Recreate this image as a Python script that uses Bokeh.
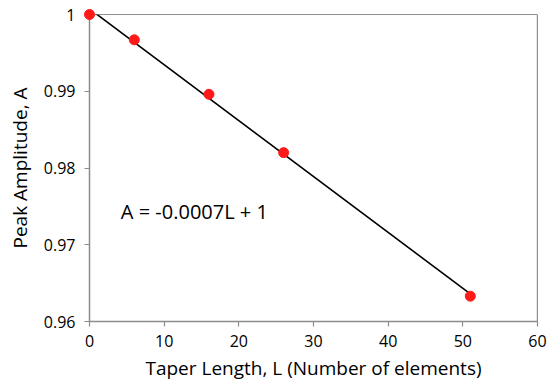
import numpy as np
from bokeh.plotting import figure
from bokeh.models import Span, Label, FixedTicker, Range1d
from bokeh.embed import file_html
from bokeh.resources import INLINE

# Data
taper_length = [0, 6, 16, 26, 51]
peak_amplitude = [1.0, 0.9967, 0.9896, 0.9820, 0.9633]
x_ticks = [0, 10, 20, 30, 40, 50, 60]
y_ticks = [0.96, 0.97, 0.98, 0.99, 1.0]
equation_text = "A = -0.0007L + 1"

FONT = "Open Sans"

p = figure(width=555, height=391,
           min_border_left=89, min_border_top=14, min_border_right=18, min_border_bottom=70,
           x_range=Range1d(0, 60), y_range=Range1d(0.96, 1.0),
           output_backend="svg", toolbar_location=None)

p.background_fill_color = "white"
p.border_fill_color = "white"
p.outline_line_color = None
p.xgrid.grid_line_color = None
p.ygrid.grid_line_color = None

# Linear trendline fitted to the data
slope, intercept = np.polyfit(taper_length, peak_amplitude, 1)
xs = [min(taper_length), max(taper_length)]
ys = [slope * x + intercept for x in xs]
p.line(xs, ys, line_color="black", line_width=1.6)

# Top and right frame borders
p.add_layout(Span(location=1.0, dimension="width", line_color="#222222", line_width=1.2))
p.add_layout(Span(location=60, dimension="height", line_color="#222222", line_width=1.2))

p.scatter(taper_length, peak_amplitude, size=10, fill_color="#FF1A1A",
          line_color="#FF1A1A", level="overlay")

for ax in (p.xaxis, p.yaxis):
    ax.axis_line_color = "#8C8C8C"
    ax.axis_line_width = 1.5
    ax.major_tick_line_color = "#8C8C8C"
    ax.major_tick_line_width = 1.2
    ax.major_tick_out = 5
    ax.major_tick_in = 0
    ax.minor_tick_line_color = None
    ax.major_label_text_font = FONT
    ax.major_label_text_font_size = "16px"
    ax.major_label_text_color = "black"
    ax.axis_label_text_font = FONT
    ax.axis_label_text_font_size = "19px"
    ax.axis_label_text_font_style = "normal"
    ax.axis_label_text_color = "black"

p.xaxis.ticker = FixedTicker(ticks=x_ticks)
p.yaxis.ticker = FixedTicker(ticks=y_ticks)
p.yaxis.major_label_overrides = {0.96: "0.96", 0.97: "0.97", 0.98: "0.98", 0.99: "0.99", 1.0: "1"}
p.xaxis.major_label_standoff = 8
p.yaxis.major_label_standoff = 9
p.xaxis.axis_label = "Taper Length, L (Number of elements)"
p.yaxis.axis_label = "Peak Amplitude, A"
p.xaxis.axis_label_standoff = 5
p.yaxis.axis_label_standoff = 8

p.add_layout(Label(x=4.2, y=0.9743, text=equation_text, text_font=FONT,
                   text_font_size="20px", text_baseline="middle", text_color="black"))

open("out.html", "w").write(file_html(p, INLINE))
